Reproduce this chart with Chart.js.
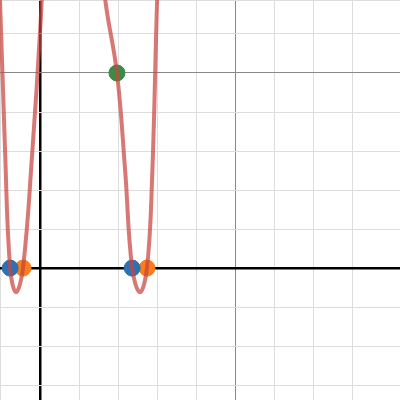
<!DOCTYPE html>
<html><head><meta charset="utf-8">
<script src="https://cdn.jsdelivr.net/npm/chart.js@4"></script>
<style>html,body{margin:0;padding:0;background:#fff;overflow:hidden}#w{width:400px;height:400px}</style>
</head><body><div id="w"><canvas id="c"></canvas></div>
<script>
const branch1X = [-1.1, -1.03, -0.9, -0.77, -0.62, -0.44, -0.2, 0, 0.07];
const branch1Y = [8.2, 6.87, 3.0, 0, -0.62, 0, 3.0, 6.1, 7.5];
const branch2X = [1.62, 1.67, 1.97, 2.18, 2.36, 2.56, 2.74, 2.87, 3.0, 3.05];
const branch2Y = [7.8, 6.87, 5.0, 2.5, 0, -0.62, 0, 2.26, 6.87, 8.0];
const blueX = [-0.77, 2.36], blueY = [0, 0];
const orangeX = [-0.44, 2.74], orangeY = [0, 0];
const greenX = [1.97], greenY = [5.0];
const pts = (xs, ys) => xs.map((x, i) => ({x, y: ys[i]}));
const curve = {borderColor:'rgba(199,68,64,0.72)', borderWidth:4, pointRadius:0, tension:0.4, fill:false, showLine:true};
const dot = c => ({backgroundColor:c, borderColor:c, pointRadius:8, showLine:false});
const gridColor = ctx => ctx.tick.value === 0 ? '#000' : (Math.round(ctx.tick.value) % 5 === 0 ? '#888' : '#ddd');
const gridWidth = ctx => ctx.tick.value === 0 ? 2.5 : 1;
new Chart(document.getElementById('c'), {
  type: 'scatter',
  data: {datasets: [
    Object.assign({data: pts(branch1X, branch1Y)}, curve),
    Object.assign({data: pts(branch2X, branch2Y)}, curve),
    Object.assign({data: pts(blueX, blueY)}, dot('#2d70b3')),
    Object.assign({data: pts(orangeX, orangeY)}, dot('#fa7e19')),
    Object.assign({data: pts(greenX, greenY)}, dot('#388c46'))
  ]},
  options: {
    responsive: true, maintainAspectRatio: false, animation: false,
    layout: {padding: 0, autoPadding: false},
    plugins: {legend: {display: false}, tooltip: {enabled: false}},
    scales: {
      x: {type:'linear', min:-1.03, max:9.23, ticks:{display:false, stepSize:1, padding:0}, border:{display:false},
          grid:{color:gridColor, lineWidth:gridWidth, drawTicks:false}},
      y: {type:'linear', min:-3.38, max:6.87, ticks:{display:false, stepSize:1, padding:0}, border:{display:false},
          grid:{color:gridColor, lineWidth:gridWidth, drawTicks:false}}
    }
  }
});
</script></body></html>
